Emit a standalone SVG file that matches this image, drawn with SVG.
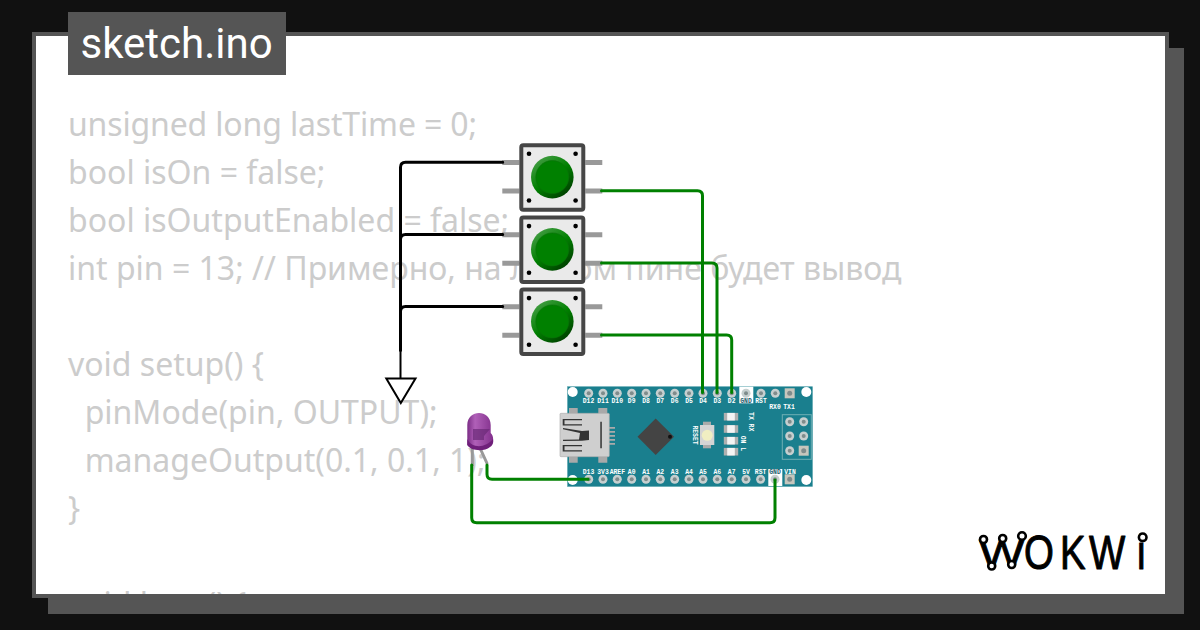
<svg xmlns="http://www.w3.org/2000/svg" width="1200" height="630" viewBox="0 0 1200 630">
<style>
.code{font-family:"Noto Sans","Open Sans",sans-serif;font-weight:400;font-size:32px;fill:#ccc;white-space:pre}
.title{font-family:Roboto,"Noto Sans",sans-serif;font-size:42px;fill:#fff}
.logo{font-family:"Liberation Sans",sans-serif;font-size:48px;fill:#000;stroke:#000;stroke-width:1;stroke-linejoin:round}
.lab{font-family:"Liberation Mono",monospace;font-size:6.4px;font-weight:700;fill:#fff;text-anchor:middle}
.w{fill:none;stroke-width:3;stroke-linecap:round;stroke-linejoin:round}
.g{stroke:#008000}.b{stroke:#000}
.lead{stroke:#999;stroke-width:5;fill:none}
.usbl{fill:#333}
</style>
<defs>
<linearGradient id="dome" x1="0.2" y1="0.1" x2="0.8" y2="0.9"><stop offset="0" stop-color="#3c9a3c"/><stop offset="0.5" stop-color="#008000"/><stop offset="1" stop-color="#004400"/></linearGradient>
<linearGradient id="led" x1="0" y1="0" x2="1" y2="0"><stop offset="0" stop-color="#7b2d86"/><stop offset="0.3" stop-color="#b060b8"/><stop offset="1" stop-color="#82308c"/></linearGradient>
<g id="btn">
<path class="lead" d="M-50 19.2H-33M-50 47.6H-33M33 19.2H50M33 47.6H50"/>
<rect x="-31" y="2" width="62" height="64.500" rx="2" fill="#eaeaea" stroke="#464646" stroke-width="4"/>
<circle cx="-23.300" cy="10.500" r="2.300" fill="#000"/><circle cx="23.300" cy="10.500" r="2.300" fill="#000"/>
<circle cx="-23.300" cy="57.200" r="2.300" fill="#000"/><circle cx="23.300" cy="57.200" r="2.300" fill="#000"/>
<circle cx="0" cy="33.800" r="21.300" fill="url(#dome)"/><circle cx="0" cy="33.800" r="16.500" fill="#008000" stroke="#0a700a" stroke-width=".6"/>
</g>
<g id="p"><circle r="4.500" fill="#c6cfcf"/><circle r="2" fill="#7f8c8c"/></g>
<g id="sq"><rect x="-5" y="-5" width="10" height="10" fill="#c6c6bd"/><circle r="2.500" fill="#7f8c8c"/></g>
<g id="sled"><rect x="-7.200" y="-3.800" width="14.400" height="7.600" fill="#b0b0b0"/><rect x="-3.800" y="-3.800" width="7.600" height="7.600" fill="#f4f4f4"/></g>
</defs>
<rect width="1200" height="630" fill="#111"/>
<rect x="48" y="48" width="1136" height="566" fill="#555"/>
<rect x="34" y="34" width="1133" height="562" fill="#fff"/>
<g id="code">
<text class="code" x="68" y="136" textLength="409" lengthAdjust="spacing">unsigned long lastTime = 0;</text>
<text class="code" x="68" y="184">bool isOn = false;</text>
<text class="code" x="68" y="232">bool isOutputEnabled = false;</text>
<text class="code" x="68" y="280">int pin = 13; // Примерно, на любом пине будет вывод</text>
<text class="code" x="68" y="376">void setup() {</text>
<text class="code" x="68" y="424">  pinMode(pin, OUTPUT);</text>
<text class="code" x="68" y="472">  manageOutput(0.1, 0.1, 1);</text>
<text class="code" x="68" y="520">}</text>
<text class="code" x="68" y="616">void loop() {</text>
</g>
<path d="M48 594H1184V614H48Z" fill="#555"/>
<path d="M0 614H1200V630H0Z" fill="#111"/>
<path d="M32 32V598H48V594H36V36H1165V594H1169V32Z" fill="#555"/>
<path d="M32 598H48V614H32Z" fill="#111"/>
<g id="title"><rect x="68" y="12" width="218" height="63" fill="#555"/><text class="title" x="80.500" y="58">sketch.ino</text></g>

<g id="logo">
<text class="logo" transform="translate(979 567) scale(1 .82)">W</text>
<text class="logo" transform="translate(0 569) scale(.8 1)" x="1280 1325 1361.250 1421.250">OKWi</text>
<g fill="#fff" stroke="#000" stroke-width="2.600"><circle cx="983.500" cy="539.500" r="3.500"/><circle cx="1002.700" cy="538.500" r="3.500"/><circle cx="1022" cy="536" r="3.800"/><circle cx="991.700" cy="566" r="3.500"/><circle cx="1011.700" cy="564.500" r="3.500"/><circle cx="1142.700" cy="537.300" r="3.800"/></g></g>

<g id="btn1" transform="translate(552.300 143.300)"><use href="#btn"/></g>
<g id="btn2" transform="translate(552.300 215.600)"><use href="#btn"/></g>
<g id="btn3" transform="translate(552.300 287.600)"><use href="#btn"/></g>

<g id="gnd1"><path d="M400.500 350V378.500" stroke="#000" stroke-width="2" fill="none"/><path d="M386.300 378.500H415.500L400.800 403Z" fill="none" stroke="#000" stroke-width="2"/></g>

<g id="nano">
<rect x="567.500" y="386.700" width="245" height="99.800" fill="#1a7f8e" stroke="#5aa5ae" stroke-width=".6"/>
<circle cx="572.700" cy="392" r="5" fill="#fff"/><circle cx="572.700" cy="480" r="5" fill="#fff"/><circle cx="806.300" cy="392" r="5" fill="#fff"/><circle cx="806.300" cy="480" r="5" fill="#fff"/>
<rect x="739.300" y="386.700" width="14" height="16.600" fill="#fff"/><rect x="768.300" y="469" width="14" height="17" fill="#fff"/>
<g id="toppins" transform="translate(0 393.300)">
<use href="#p" x="588.700"/><use href="#p" x="603"/><use href="#p" x="617.300"/><use href="#p" x="631.700"/><use href="#p" x="646"/><use href="#p" x="660.300"/><use href="#p" x="674.700"/><use href="#p" x="689"/><use href="#p" x="703"/><use href="#p" x="717.300"/><use href="#p" x="731.700"/><use href="#p" x="746"/><use href="#p" x="761"/><use href="#p" x="775.300"/><use href="#sq" x="789.700"/>
</g>
<g id="botpins" transform="translate(0 479.300)">
<use href="#p" x="588.700"/><use href="#p" x="603"/><use href="#p" x="617.300"/><use href="#p" x="631.700"/><use href="#p" x="646"/><use href="#p" x="660.300"/><use href="#p" x="674.700"/><use href="#p" x="689"/><use href="#p" x="703"/><use href="#p" x="717.300"/><use href="#p" x="731.700"/><use href="#p" x="746"/><use href="#p" x="760.600"/><use href="#p" x="775"/><use href="#sq" x="789.700"/>
</g>
<g id="labels">
<text class="lab" x="588.500" y="402.500">D12</text><text class="lab" x="603" y="402.500">D11</text><text class="lab" x="617.300" y="402.500">D10</text><text class="lab" x="631.700" y="402.500">D9</text><text class="lab" x="646" y="402.500">D8</text><text class="lab" x="660.300" y="402.500">D7</text><text class="lab" x="674.700" y="402.500">D6</text><text class="lab" x="689" y="402.500">D5</text><text class="lab" x="703" y="402.500">D4</text><text class="lab" x="717.300" y="402.500">D3</text><text class="lab" x="731.700" y="402.500">D2</text>
<text class="lab" x="746" y="402.500" style="fill:#24606c">GND</text><text class="lab" x="761" y="402.500">RST</text><text class="lab" x="775" y="409">RX0</text><text class="lab" x="789" y="409">TX1</text>
<text class="lab" x="588.500" y="473.500">D13</text><text class="lab" x="603" y="473.500">3V3</text><text class="lab" x="617.300" y="473.500">AREF</text><text class="lab" x="631.700" y="473.500">A0</text><text class="lab" x="646" y="473.500">A1</text><text class="lab" x="660.300" y="473.500">A2</text><text class="lab" x="674.700" y="473.500">A3</text><text class="lab" x="689" y="473.500">A4</text><text class="lab" x="703" y="473.500">A5</text><text class="lab" x="717.300" y="473.500">A6</text><text class="lab" x="731.700" y="473.500">A7</text><text class="lab" x="746" y="473.500">5V</text><text class="lab" x="760.600" y="473.500">RST</text><text class="lab" x="775" y="473.500" style="fill:#24606c">GND</text><text class="lab" x="790" y="473.500">VIN</text>
<text class="lab" transform="translate(693 435) rotate(90)">RESET</text>
<text class="lab" transform="translate(749 421.700) rotate(90)">TX RX</text>
<text class="lab" transform="translate(740.700 443.300) rotate(90)">ON L</text>
</g>
<g id="usb">
<path d="M569 408h8.700v6h-8.700zM598.300 408h9v6h-9zM569 456h8.700v6.700h-8.700zM598.300 456h9v6.700h-9z" fill="#a9a9a9"/>
<path d="M609 427h6v1.800h-6zM609 431h6v1.800h-6zM609 435h6v1.800h-6zM609 439h6v1.800h-6zM609 443h6v1.800h-6z" fill="#aaa"/>
<rect x="560" y="413.300" width="49.300" height="43.400" rx="1" fill="#cfcfcf" stroke="#aaa" stroke-width=".6"/>
<path class="usbl" d="M600.300 421.700h1.500v26.600h-1.500zM562.700 419h19.300v1.200h-17.500v4h17.500v1.200h-19.300zM562.700 445h19.300v1.200h-17.500v4h17.500v1.200h-19.300zM563 428l19 3 7-.5v9.500l-7 .7-19 .3v-1.200l16-.2 1-6.600-17-3.700z"/>
</g>
<g id="chip"><path d="M655.700 418.500L674 436.700 655.700 455 637.500 436.700Z" fill="#444"/><circle cx="670" cy="436.700" r="2" fill="#111"/></g>
<g id="reset"><rect x="703" y="421.700" width="8" height="26.600" fill="#aaa"/><rect x="700" y="425" width="14.300" height="20" fill="#d4d4d4"/><circle cx="707.200" cy="435.300" r="5.500" fill="#f0eec2"/></g>
<g id="smd"><use href="#sled" x="731" y="416.700"/><use href="#sled" x="731" y="429"/><use href="#sled" x="731" y="440.700"/><use href="#sled" x="731" y="451.700"/></g>
<g id="icsp"><rect x="782.300" y="414.700" width="29" height="44.600" fill="none" stroke="#6fb0b5" stroke-width="1"/><use href="#p" x="789.700" y="421.700"/><use href="#p" x="803.700" y="421.700"/><use href="#p" x="789.700" y="436"/><use href="#p" x="803.700" y="436"/><use href="#p" x="789.700" y="450.700"/><use href="#sq" x="803.700" y="450.700"/></g>
</g>

<g id="led1">
<path d="M472.300 448V466M480 448L487.300 464" stroke="#999" stroke-width="3" fill="none"/>
<path d="M467.300 445V425C467.300 409 490.700 409 490.700 425V433C494 436 494 442 490.700 446C485 451 472 451 467.300 445Z" fill="url(#led)"/>
<path d="M467.300 439C472 449 486 448 493 439C494 443 492 446 490 447C484 452 471 451 467.300 445Z" fill="#6f1f7a"/>
<path d="M473 429H490L484 436V440H473Z" fill="#6a2a76" opacity=".7"/>
</g>

<g id="connectors">
<path class="w b" d="M502.700 162.300H405.500Q400.500 162.300 400.500 167.300V350"/>
<path class="w b" d="M502.700 234.600H405.500Q400.500 234.600 400.500 239.600V350"/>
<path class="w b" d="M502.700 306.600H405.500Q400.500 306.600 400.500 311.600V350"/>
<path class="w g" d="M601.500 190.800H697.500Q702.500 190.800 702.500 195.800V392.500"/>
<path class="w g" d="M601.500 263.100H712Q717 263.100 717 268.100V392.500"/>
<path class="w g" d="M601.500 335.100H726.700Q731.700 335.100 731.700 340.100V392.500"/>
<path class="w g" d="M487 465V474.300Q487 479.300 492 479.300H588"/>
<path class="w g" d="M471.700 465V517.700Q471.700 522.700 476.700 522.700H770Q775 522.700 775 517.700V480"/>
</g>
</svg>
